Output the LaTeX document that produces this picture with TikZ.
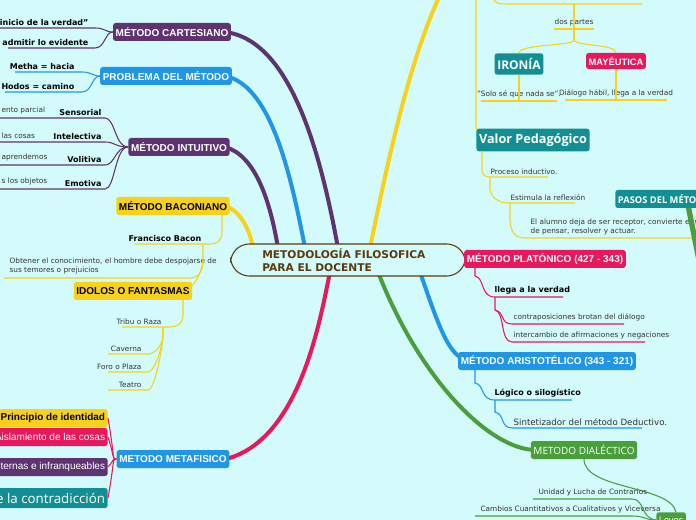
\documentclass[tikz,border=0pt]{standalone}
\usepackage{fontspec}
\setmainfont{DejaVu Sans}
\newfontfamily\lib{Liberation Sans}
\newfontfamily\opens{Open Sans}
\begin{document}
\begin{tikzpicture}[x=0.75pt,y=-0.75pt,
  box/.style={rounded corners=2pt,inner sep=2pt,font=\lib\bfseries\fontsize{7.5}{9}\selectfont,text=white,minimum height=13.5pt},
  lbl/.style={inner sep=1pt,font=\fontsize{5.5}{7}\selectfont,text=black!80},
  blbl/.style={inner sep=1pt,font=\bfseries\fontsize{6}{7}\selectfont,text=black},
  br/.style={line width=3pt,line cap=round},
  th/.style={line width=0.8pt}]
\definecolor{bg}{HTML}{D4FBFB}
\definecolor{pur}{HTML}{5E3470}
\definecolor{blu}{HTML}{2196E6}
\definecolor{yel}{HTML}{F7D11C}
\definecolor{pnk}{HTML}{E8185C}
\definecolor{tea}{HTML}{138F94}
\definecolor{grn}{HTML}{4A9E3C}
\definecolor{brn}{HTML}{5C3A0E}
\fill[bg] (0,0) rectangle (696,520);
\useasboundingbox (0,0) rectangle (696,520);
% main branches
\draw[br,pur] (225,32) .. controls (290,40) and (320,150) .. (338,248);
\draw[br,blu] (225,76) .. controls (270,85) and (290,170) .. (305,248);
\draw[br,pur] (225,147) .. controls (255,155) and (270,200) .. (278,248);
\draw[br,yel] (225,206) .. controls (240,210) and (250,230) .. (253,248);
\draw[br,yel] (370,248) .. controls (390,150) and (410,60) .. (440,-5);
\draw[br,pnk] (330,272) .. controls (320,320) and (300,440) .. (226,459);
\draw[br,grn] (378,272) .. controls (420,380) and (490,450) .. (536,450);
\draw[br,blu] (420,272) .. controls (440,330) and (450,360) .. (471,361);
\draw[th,pnk] (464,260) -- (471,260);
% center
\node[draw=brn,line width=0.8pt,rounded corners=14pt,fill=bg,minimum width=176pt,minimum height=24pt] (c) at (348,260) {};
\node[anchor=west,align=left,inner sep=0,font=\bfseries\fontsize{8}{9.5}\selectfont,text=brn] (ct) at (262,260) {METODOLOGÍA FILOSOFICA\\PARA EL DOCENTE};
% CARTESIANO
\node[box,fill=pur] (car) at (172,32) {MÉTODO CARTESIANO};
\node[blbl,anchor=south east] (car1) at (90,27) {el inicio de la verdad"};
\node[blbl,anchor=south east] (car2) at (90,47) {admitir lo evidente};
\draw[th,pur] (car.west) .. controls (105,32) and (105,28) .. (95,28) -- (0,28);
\draw[th,pur] (car.west) .. controls (105,32) and (105,48) .. (95,48) -- (8,48);
% PROBLEMA
\node[box,fill=blu] (pro) at (166,76) {PROBLEMA DEL MÉTODO};
\node[blbl,anchor=south east] (p1) at (76,71) {Metha = hacia};
\node[blbl,anchor=south east] (p2) at (76,91) {Hodos = camino};
\draw[th,blu] (pro.west) .. controls (92,76) and (92,72) .. (82,72) -- (15,72);
\draw[th,blu] (pro.west) .. controls (92,76) and (92,92) .. (82,92) -- (5,92);
% INTUITIVO
\node[box,fill=pur] (int) at (179,147) {MÉTODO INTUITIVO};
\foreach \n/\t/\s/\y in {i1/Sensorial/ento parcial/118,i2/Intelectiva/las cosas/142,i3/Volitiva/ aprendemos/165,i4/Emotiva/s los objetos/189}{
  \node[blbl,anchor=south east] (\n) at (103,\y-1) {\t};
  \node[lbl,anchor=south west] (\n s) at (0,\y-2) {\s};
  \draw[th,pur] (int.west) .. controls (115,147) and (115,\y) .. (105,\y) -- (0,\y);
}
% BACONIANO
\node[box,fill=yel,text=black] (bac) at (173,206) {MÉTODO BACONIANO};
\node[blbl,anchor=south east] (fb) at (203,243) {Francisco Bacon};
\draw[th,yel] (222,215) -- (222,232) .. controls (222,240) and (218,244) .. (210,244) -- (135,244);
\node[lbl,anchor=south west,align=left] (ob) at (8,276) {Obtener el conocimiento, el hombre debe despojarse de\\sus temores o prejuicios};
\draw[th,yel] (203,244) -- (203,260) .. controls (203,272) and (198,278) .. (190,278) -- (4,278);
\node[box,fill=yel,text=black] (ido) at (133,291) {IDOLOS O FANTASMAS};
\draw[th,yel] (203,262) .. controls (200,275) and (196,283) .. (187,291);
\node[lbl,anchor=south east] (t1) at (163,326) {Tribu o Raza};
\draw[th,yel] (183,299) -- (183,315) .. controls (183,323) and (178,327) .. (170,327) -- (122,327);
\foreach \n/\t/\y in {t2/Caverna/354,t3/Foro o Plaza/372,t4/Teatro/390}{
  \node[lbl,anchor=south east] (\n) at (143,\y-1) {\t};
  \draw[th,yel] (163,327) -- (163,335) .. controls (163,345) and (155,\y) .. (148,\y) -- (108,\y);
}
% METAFISICO
\node[box,fill=blu] (met) at (173,459) {METODO METAFISICO};
\node[box,fill=yel,text=black,anchor=east] (m1) at (108,418) {Principio de identidad};
\node[box,fill=pnk,anchor=east,font=\lib\fontsize{7.5}{9}\selectfont] (m2) at (108,437) {Aislamiento de las cosas};
\node[box,fill=pur,anchor=east,font=\lib\fontsize{7.5}{9}\selectfont] (m3) at (108,467) {eternas e infranqueables};
\node[box,fill=tea,anchor=east,font=\opens\fontsize{10}{12}\selectfont,minimum height=15pt] (m4) at (108,498) {e la contradicción};
\foreach \m in {m1,m2,m3,m4}{\draw[th,pnk] (met.west) .. controls (112,459) and (115,459) .. (\m.east);}
% top yellow region
\draw[th,yel] (476,-2) -- (476,125) .. controls (476,130) and (478,132) .. (480,132);
\draw[th,yel] (493,-2) .. controls (495,4) and (500,4) .. (510,4) -- (642,4);
\node[lbl,anchor=south] (dp) at (574,28) {dos partes};
\draw[th,yel] (574,4) -- (574,29); \draw[th,yel] (554,29) -- (594,29);
\node[box,fill=tea,font=\opens\bfseries\fontsize{9}{11}\selectfont,minimum height=16pt] (iro) at (519,64) {IRONÍA};
\node[box,fill=pnk,font=\lib\bfseries\fontsize{7}{8}\selectfont,minimum height=12pt] (may) at (616,61) {MAYÉUTICA};
\draw[th,yel] (574,40) .. controls (574,46) and (519,44) .. (iro.north);
\draw[th,yel] (574,40) .. controls (574,46) and (616,44) .. (may.north);
\draw[th,yel] (574,29) -- (574,40);
\node[lbl,anchor=south] (so) at (519,100) {"Solo sé que nada se".};
\draw[th,yel] (iro.south) -- (519,101); \draw[th,yel] (481,101) -- (557,101);
\node[lbl,anchor=south] (dh) at (616,99) {Diálogo hábil, llega a la verdad};
\draw[th,yel] (may.south) -- (616,100); \draw[th,yel] (565,100) -- (667,100);
\node[box,fill=tea,font=\opens\bfseries\fontsize{9.5}{11}\selectfont,minimum height=17pt] (vp) at (533,140) {Valor Pedagógico};
\node[lbl,anchor=south west] (v1) at (489,176) {Proceso inductivo.};
\draw[th,yel] (482,151) -- (482,170) .. controls (482,176) and (486,177) .. (492,177) -- (548,177);
\node[lbl,anchor=south west] (v2) at (509,202) {Estimula la reflexión};
\draw[th,yel] (490,177) -- (490,188) .. controls (490,198) and (500,203) .. (508,203) -- (575,203);
\node[lbl,anchor=south west,align=left] (v3) at (529,237) {El alumno deja de ser receptor, convierte en un ser capaz\\de pensar, resolver y actuar.};
\draw[th,yel] (510,203) -- (510,218) .. controls (510,232) and (515,238) .. (525,238) -- (700,238);
\draw[line width=4pt,grn] (688,205) -- (700,265);
\draw[line width=1.5pt,pnk] (696,220) -- (700,240);
\node[box,fill=tea,font=\opens\bfseries\fontsize{7}{8}\selectfont,anchor=west] (pas) at (615,199) {PASOS DEL MÉTODO};
% PLATONICO
\node[box,fill=pnk] (pla) at (545,259) {MÉTODO PLATÓNICO (427 - 343)};
\node[blbl,anchor=south west] (pl1) at (493,296) {llega a la verdad};
\draw[th,pnk] (475,268) -- (475,276) .. controls (485,278) and (480,297) .. (495,297) -- (563,297);
\node[lbl,anchor=south west] (pl2) at (512,323) {contraposiciones brotan del diálogo};
\node[lbl,anchor=south west] (pl3) at (512,341) {intercambio de afirmaciones y negaciones};
\draw[th,pnk] (495,297) -- (495,310) .. controls (505,312) and (500,324) .. (512,324) -- (624,324);
\draw[th,pnk] (495,310) .. controls (505,312) and (500,342) .. (512,342) -- (645,342);
% ARISTOTELICO
\node[box,fill=blu] (ari) at (547,361) {MÉTODO ARISTOTÉLICO (343 - 321)};
\node[blbl,anchor=south west] (ar1) at (493,399) {Lógico o silogístico};
\draw[th,blu] (475,370) -- (475,383) .. controls (485,385) and (480,400) .. (495,400) -- (572,400);
\node[lbl,anchor=south west,font=\fontsize{6.5}{8}\selectfont] (ar2) at (512,427) {Sintetizador del método Deductivo.};
\draw[th,blu] (495,400) -- (495,412) .. controls (505,414) and (500,428) .. (512,428) -- (642,428);
% DIALECTICO
\node[box,fill=grn,font=\opens\fontsize{7.5}{9}\selectfont] (dia) at (584,450) {METODO DIALÉCTICO};
\node[box,fill=grn,font=\opens\fontsize{7}{8}\selectfont,anchor=north west] (ley) at (656,512) {Leyes};
\draw[th,grn] (584,459) .. controls (584,490) and (670,485) .. (676,512);
\node[lbl,anchor=south west] (d1) at (537,498) {Unidad y Lucha de Contrarios};
\node[lbl,anchor=south west] (d2) at (479,515) {Cambios Cuantitativos a Cualitativos y Viceversa};
\draw[th,grn] (656,520) .. controls (640,518) and (645,499) .. (632,499) -- (533,499);
\draw[th,grn] (656,520) .. controls (645,520) and (645,516) .. (632,516) -- (475,516);
\end{tikzpicture}
\end{document}
